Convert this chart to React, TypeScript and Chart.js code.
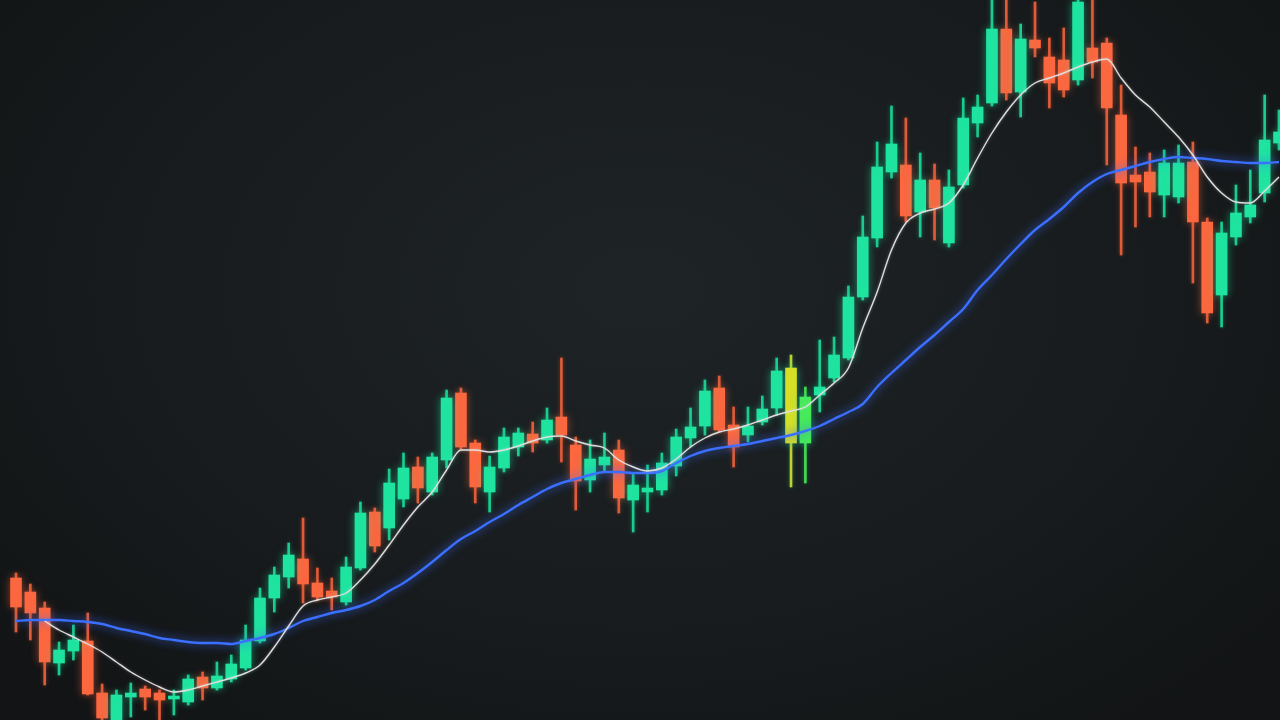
import { useEffect, useRef } from 'react';
import { Chart, registerables } from 'chart.js';

Chart.register(...registerables);

// ---- data (price units) ----
const sessions = Array.from({ length: 89 }, (_, i) => `S${i + 1}`);

const openValues = [142,128,112,57,69,79,27,-2,23,31,27,21,18,43,32,41,52,79,122,143,161,137,129,118,152,208,192,221,253,228,260,327,277,228,252,273,286,280,303,275,240,255,270,220,228,230,254,282,294,332,295,285,298,312,277,277,325,342,362,423,482,548,555,508,540,477,535,597,617,691,628,680,663,660,640,672,677,605,545,548,525,523,558,498,425,483,503,527,577];
const closeValues = [113,107,58,70,80,26,2,25,27,23,20,24,41,32,44,56,80,122,145,165,136,123,123,153,207,174,237,252,232,263,322,273,233,253,283,287,277,300,285,239,261,263,222,235,232,257,283,293,329,290,273,294,311,349,352,323,333,365,423,483,553,576,504,540,512,533,602,613,691,627,681,672,637,630,718,658,612,537,538,528,557,557,498,407,487,507,515,580,588];
const highValues = [147,136,118,78,95,107,36,30,37,34,30,30,45,48,58,65,95,132,153,177,202,152,142,163,218,212,251,267,263,267,330,332,280,264,292,292,298,312,362,283,280,287,280,247,255,267,291,312,340,344,313,313,324,362,365,333,380,383,434,504,578,614,602,567,556,550,622,625,725,725,696,718,682,692,725,725,682,635,573,567,570,575,578,502,498,535,550,625,610];
const lowValues = [88,80,35,45,60,25,-4,-5,3,10,0,5,15,20,30,38,50,77,108,132,117,120,110,115,150,168,180,213,217,225,252,270,217,208,248,264,268,277,258,210,228,248,207,188,208,225,244,273,285,288,253,278,295,305,233,237,308,338,360,420,473,542,498,483,480,473,532,583,614,620,603,663,612,623,635,642,555,465,493,503,503,517,437,397,393,475,497,518,570];

const fastAverage = [null,null,99,90,83,76,68,58,48,40,33,28,30,34,38,42,47,55,73,94,114,120,123,127,140,156,175,195,213,228,250,270,270,268,270,274,279,283,284,279,275,272,260,253,249,252,261,273,282,288,291,295,300,305,309,313,325,337,352,392,428,470,497,507,511,517,535,562,587,608,625,637,642,647,653,658,661,642,625,613,598,583,565,543,527,518,517,529,543];
const slowAverage = [99,100,100,100,99,98,96,92,89,86,82,80,78,77,77,76,79,82,86,92,99,103,107,110,114,120,129,137,147,158,170,181,189,198,206,215,223,231,237,241,245,248,248,247,247,249,257,264,269,272,274,276,279,282,285,289,294,301,308,316,333,347,360,373,385,398,411,430,445,461,476,490,501,513,527,538,546,550,554,558,561,563,562,561,559,558,557,557,558];

// highlighted sessions (style only)
const highlightBody: Record<number, string> = { 54: '#d6de26', 55: '#46ea5a' };
const highlightWick: Record<number, string> = { 54: '#c6ce2c', 55: '#44da4e' };

const GREEN = '#1fe4a0';
const GREEN_WICK = '#1ccc8f';
const RED = '#fb673f';
const RED_WICK = '#de5c3a';

const glowPlugin = {
  id: 'glow',
  beforeDatasetDraw(chart: any, args: any) {
    const ds: any = chart.data.datasets[args.index];
    const ctx = chart.ctx;
    ctx.save();
    if (ds.glowColor) {
      ctx.shadowColor = ds.glowColor;
      ctx.shadowBlur = ds.glowBlur || 8;
    }
  },
  afterDatasetDraw(chart: any) {
    chart.ctx.restore();
  },
};

export default function App() {
  const canvasRef = useRef<HTMLCanvasElement | null>(null);

  useEffect(() => {
    document.body.style.margin = '0';
    document.body.style.overflow = 'hidden';
    const canvas = canvasRef.current;
    if (!canvas) return;

    const up = (i: number) => closeValues[i] >= openValues[i];
    const upWicks = sessions.map((_, i) => (up(i) ? [lowValues[i], highValues[i]] : null));
    const downWicks = sessions.map((_, i) => (!up(i) ? [lowValues[i], highValues[i]] : null));
    const upBodies = sessions.map((_, i) => (up(i) ? [openValues[i], closeValues[i]] : null));
    const downBodies = sessions.map((_, i) => (!up(i) ? [openValues[i], closeValues[i]] : null));
    const upBodyColors = sessions.map((_, i) => highlightBody[i] || GREEN);
    const upWickColors = sessions.map((_, i) => highlightWick[i] || GREEN_WICK);

    const barCommon = {
      grouped: false,
      borderWidth: 0,
      borderSkipped: false,
      clip: false,
    };

    const chart = new Chart(canvas, {
      type: 'bar',
      data: {
        labels: sessions,
        datasets: [
          {
            type: 'line',
            data: fastAverage as any,
            borderColor: '#dedede',
            borderWidth: 1.4,
            pointRadius: 0,
            tension: 0.4,
            cubicInterpolationMode: 'monotone',
            order: 0,
            clip: false,
            glowColor: 'rgba(255,255,255,0.35)',
            glowBlur: 3,
          } as any,
          {
            type: 'line',
            data: slowAverage as any,
            borderColor: '#3b6fff',
            borderWidth: 2.4,
            pointRadius: 0,
            tension: 0.4,
            cubicInterpolationMode: 'monotone',
            order: 0,
            clip: false,
            glowColor: 'rgba(60,110,255,0.95)',
            glowBlur: 10,
          } as any,
          {
            ...barCommon,
            data: upBodies as any,
            backgroundColor: upBodyColors,
            barThickness: 11,
            order: 1,
            glowColor: 'rgba(30,228,160,0.55)',
            glowBlur: 9,
          } as any,
          {
            ...barCommon,
            data: downBodies as any,
            backgroundColor: RED,
            barThickness: 11,
            order: 1,
            glowColor: 'rgba(251,103,63,0.55)',
            glowBlur: 9,
          } as any,
          {
            ...barCommon,
            data: upWicks as any,
            backgroundColor: upWickColors,
            barThickness: 2,
            order: 2,
            glowColor: 'rgba(30,228,160,0.4)',
            glowBlur: 4,
          } as any,
          {
            ...barCommon,
            data: downWicks as any,
            backgroundColor: RED_WICK,
            barThickness: 2,
            order: 2,
            glowColor: 'rgba(251,103,63,0.4)',
            glowBlur: 4,
          } as any,
        ],
      },
      options: {
        animation: false,
        responsive: true,
        maintainAspectRatio: false,
        layout: { padding: { left: 16, right: 1, top: 0, bottom: 0 } },
        plugins: {
          legend: { display: false },
          tooltip: { enabled: false },
        },
        scales: {
          x: { display: false, offset: false, grid: { display: false } },
          y: { display: false, min: 0, max: 720, grid: { display: false } },
        },
      },
      plugins: [glowPlugin],
    });

    return () => chart.destroy();
  }, []);

  return (
    <div
      style={{
        position: 'relative',
        width: 1280,
        height: 720,
        background:
          'radial-gradient(ellipse at 50% 40%, #1e2326 0%, #191d1f 45%, #111314 100%)',
      }}
    >
      <canvas ref={canvasRef} />
    </div>
  );
}
